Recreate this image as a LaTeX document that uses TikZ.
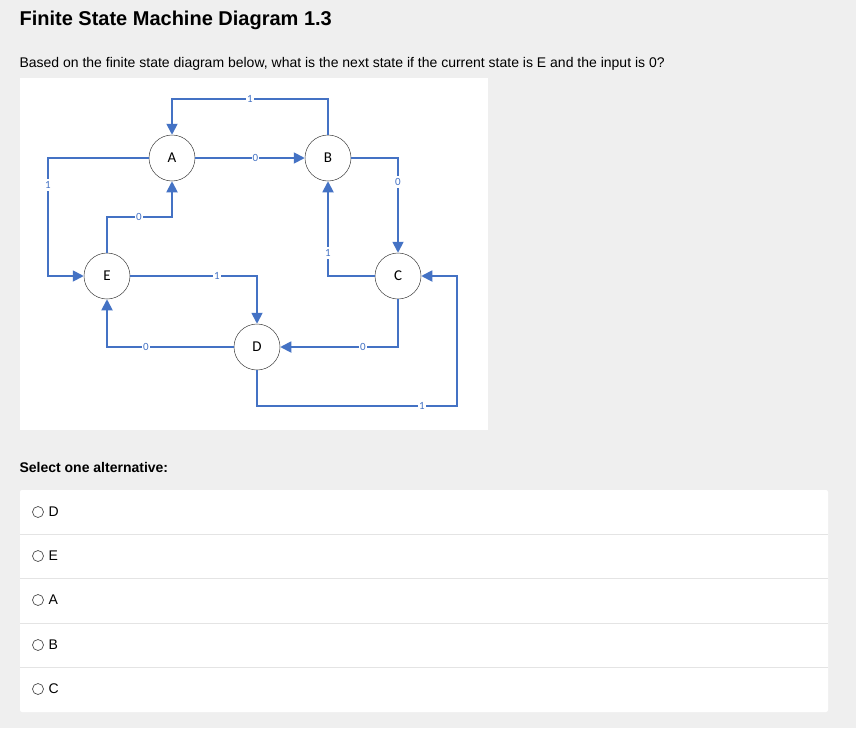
\documentclass[tikz,border=0pt]{standalone}
\usepackage{fontspec}
\setmainfont{Liberation Sans}
\newfontfamily\calib{Carlito}
\usetikzlibrary{arrows.meta}
\definecolor{edgeblue}{HTML}{4472C4}
\definecolor{pagebg}{HTML}{EFEFEF}
\definecolor{rowline}{HTML}{E4E4E4}
\tikzset{
  st/.style={circle,draw=black!75,line width=0.5pt,minimum size=46pt,inner sep=0pt,font=\calib\fontsize{15}{15}\selectfont,fill=white},
  tr/.style={draw=edgeblue,line width=1.8pt,-{Triangle[length=11pt,width=11pt]}},
  lab/.style={fill=white,inner xsep=1pt,inner ysep=1.5pt,text=edgeblue,font=\calib\fontsize{11}{11}\selectfont},
  vlab/.style={lab,inner xsep=2.5pt,inner ysep=2pt},
  radio/.style={circle,draw=black!70,line width=0.7pt,minimum size=11pt,inner sep=0pt},
  opt/.style={anchor=west,font=\fontsize{14}{14}\selectfont}
}
\begin{document}
\begin{tikzpicture}[x=1pt,y=-1pt]
\fill[pagebg] (0,0) rectangle (856,728);
\useasboundingbox (0,0) rectangle (856,728);
\node[anchor=west,font=\bfseries\fontsize{20}{20}\selectfont] (title) at (16,20) {Finite State Machine Diagram 1.3};
\node[anchor=west,font=\fontsize{14}{14}\selectfont] (q) at (16,64) {Based on the finite state diagram below, what is the next state if the current state is E and the input is 0?};
\fill[white] (20,78) rectangle (488,430);
\node[st] (A) at (172,158) {A};
\node[st] (B) at (328,158) {B};
\node[st] (C) at (398,276) {C};
\node[st] (E) at (107,276) {E};
\node[st] (D) at (257,347) {D};
% A->B
\draw[tr] (A) -- node[lab,pos=0.55]{0} (B);
% B->A
\draw[tr] (B.north) |- (250,99) node[lab]{1} -| (A.north);
% A->E
\draw[tr] (A.west) -| (48,185) node[vlab]{1} |- (E.west);
% E->A
\draw[tr] (E.north) |- (139,217) node[lab]{0} -| (A.south);
% B->C
\draw[tr] (B.east) -| (398,182) node[vlab]{0} -- (C.north);
% C->B
\draw[tr] (C.west) -| (328,253) node[vlab]{1} -- (B.south);
% E->D
\draw[tr] (E.east) -- (217,276) node[lab]{1} -| (D.north);
% D->E
\draw[tr] (D.west) -- (146,347) node[lab]{0} -| (E.south);
% C->D
\draw[tr] (C.south) |- (363,347) node[lab]{0} -- (D.east);
% D->C
\draw[tr] (D.south) |- (422,406) node[lab]{1} -| (457,276) -- (C.east);
\node[anchor=west,font=\bfseries\fontsize{14}{14}\selectfont] (sel) at (16,467) {Select one alternative:};
\fill[white,rounded corners=2pt] (20,490) rectangle (828,712);
\foreach \yy in {534,578,623,667} \draw[rowline,line width=0.8pt] (20,\yy) -- (828,\yy);
\node[radio] (r1) at (38,512) {}; \node[opt] (o1) at (45,512) {D};
\node[radio] (r2) at (38,556) {}; \node[opt] (o2) at (45,556) {E};
\node[radio] (r3) at (38,600) {}; \node[opt] (o3) at (45,600) {A};
\node[radio] (r4) at (38,645) {}; \node[opt] (o4) at (45,645) {B};
\node[radio] (r5) at (38,689) {}; \node[opt] (o5) at (45,689) {C};
\end{tikzpicture}
\end{document}
